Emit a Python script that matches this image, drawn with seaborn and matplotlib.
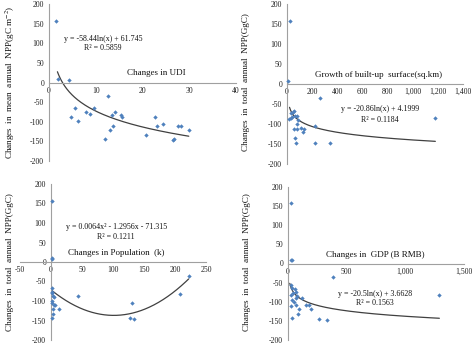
import numpy as np
import pandas as pd
import matplotlib
matplotlib.use("Agg")
import matplotlib.pyplot as plt
import seaborn as sns

sns.set_style("white")
plt.rcParams['font.family'] = ['Liberation Serif', 'DejaVu Serif']
plt.rcParams['mathtext.fontset'] = 'stix'

# ---------------- data ----------------
udi_x = [1.6, 1.9, 4.3, 4.6, 5.6, 6.2, 7.9, 8.7, 9.6, 12.0, 12.7, 13.1, 13.5,
         13.7, 14.1, 15.4, 15.6, 20.7, 22.7, 23.0, 24.3, 26.5, 26.8, 27.5, 28.3, 29.9]
udi_y = [156, 10, 6, -87, -66, -99, -76, -79, -66, -143, -35, -121, -83,
         -112, -76, -82, -87, -133, -89, -110, -105, -146, -144, -110, -111, -121]

built_x = [26, 18, 10, 33, 48, 59, 61, 77, 84, 82, 54, 79, 67, 69, 115, 138,
           128, 223, 225, 261, 345, 1180, 40, 30]
built_y = [158, -88, 8, -86, -69, -67, -80, -80, -90, -101, -112, -113, -134,
           -147, -110, -112, -121, -106, -147, -35, -148, -84, -83, -73]

pop_x = [1, 1, 1, 2, 1, 2, 3, 5, 2, 7, 5, 13, 4, 2, 44, 130, 128, 134, 208, 223, 3, 1]
pop_y = [157, 10, 7, -66, -76, -80, -88, -90, -100, -110, -110, -120, -133,
         -143, -88, -105, -144, -147, -83, -35, -120, -105]

gdp_x = [28, 25, 32, 386, 1290, 23, 35, 57, 25, 42, 37, 65, 80, 122, 150, 182,
         199, 94, 65, 23, 37, 88, 267, 335, 48, 70]
gdp_y = [158, 10, 8, -34, -83, -56, -63, -67, -82, -78, -95, -91, -84, -90,
         -108, -108, -119, -119, -108, -112, -143, -132, -145, -147, -100, -75]

# trendline coefficients shown on the chart
udi_fit = (-58.44, 61.745)
built_fit = (-20.86, 4.1999)
pop_fit = (0.0064, -1.2956, -71.315)
gdp_fit = (-20.5, 3.6628)

y_ticks = [-200, -150, -100, -50, 0, 50, 100, 150, 200]

# ---------------- figure ----------------
W, H = 474, 344
fig = plt.figure(figsize=(W / 100, H / 100), dpi=100)

def add_ax(l, t, r, b):
    return fig.add_axes([l / W, 1 - b / H, (r - l) / W, (b - t) / H])

PT = '#4f81bd'
LINE = '#404040'
SP = '#a0a0a0'

def style(ax, xlim, xticks, xlabels):
    ax.set_xlim(*xlim)
    ax.set_ylim(-200, 200)
    for s in ['top', 'right']:
        ax.spines[s].set_visible(False)
    ax.spines['left'].set_position(('data', 0))
    ax.spines['bottom'].set_position(('data', 0))
    for s in ['left', 'bottom']:
        ax.spines[s].set_color(SP)
        ax.spines[s].set_linewidth(0.8)
    ax.set_yticks(y_ticks)
    ax.set_yticklabels([str(v) for v in y_ticks])
    ax.set_xticks(xticks)
    ax.set_xticklabels(xlabels)
    ax.tick_params(axis='both', labelsize=5.6, length=2, width=0.6, color=SP,
                   pad=1.5, labelcolor='#222222')
    ax.tick_params(axis='y', direction='out')
    ax.tick_params(axis='x', direction='inout', length=3)
    ax.set_xlabel('')
    ax.set_ylabel('')
    ax.grid(False)
    ax.patch.set_alpha(0)

def scatter(ax, x, y):
    df = pd.DataFrame({'x': x, 'y': y})
    sns.scatterplot(data=df, x='x', y='y', ax=ax, color=PT, marker='D', s=5,
                    linewidth=0, legend=False, zorder=3, clip_on=False)

def line(ax, xs, ys):
    df = pd.DataFrame({'x': xs, 'y': ys})
    sns.lineplot(data=df, x='x', y='y', ax=ax, color=LINE, linewidth=0.9,
                 legend=False, zorder=2)

tfont = dict(fontsize=6.5, color='#111111')
efont = dict(fontsize=5.7, color='#111111')

# Panel 1 : UDI
ax1 = add_ax(49, 4, 236, 161)
scatter(ax1, udi_x, udi_y)
xs = np.linspace(1.8, max(udi_x), 200)
line(ax1, xs, udi_fit[0] * np.log(xs) + udi_fit[1])
style(ax1, (0, 40), [0, 10, 20, 30, 40], ['0', '10', '20', '30', '40'])
ax1.text(23, 25, 'Changes in UDI', ha='center', va='center', **tfont)
ax1.text(11.5, 110, 'y = -58.44ln(x) + 61.745', ha='center', va='center', **efont)
ax1.text(11.5, 88, 'R² = 0.5859', ha='center', va='center', **efont)
fig.text(10 / W, 1 - 82 / H, r'Changes  in  mean  annual  NPP(gC m$^{-2}$)',
         rotation=90, ha='center', va='center', fontsize=6.6, color='#111111')

# Panel 2 : built-up surface
ax2 = add_ax(287, 4, 463, 164)
scatter(ax2, built_x, built_y)
xs = np.linspace(20, max(built_x), 300)
line(ax2, xs, built_fit[0] * np.log(xs) + built_fit[1])
style(ax2, (0, 1400), [0, 200, 400, 600, 800, 1000, 1200, 1400],
      ['0', '200', '400', '600', '800', '1,000', '1,200', '1,400'])
ax2.text(730, 22, 'Growth of built-up  surface(sq.km)', ha='center', va='center', **tfont)
ax2.text(740, -62, 'y = -20.86ln(x) + 4.1999', ha='center', va='center', **efont)
ax2.text(740, -90, 'R² = 0.1184', ha='center', va='center', **efont)
fig.text(246 / W, 1 - 82 / H, 'Changes  in  total  annual  NPP(GgC)',
         rotation=90, ha='center', va='center', fontsize=6.6, color='#111111')

# Panel 3 : population
ax3 = add_ax(20, 184, 206, 340)
scatter(ax3, pop_x, pop_y)
xs = np.linspace(2, 222, 300)
line(ax3, xs, pop_fit[0] * xs ** 2 + pop_fit[1] * xs + pop_fit[2])
style(ax3, (-50, 250), [-50, 0, 50, 100, 150, 200, 250],
      ['-50', '0', '50', '100', '150', '200', '250'])
ax3.text(105, 24, 'Changes in Population  (k)', ha='center', va='center', **tfont)
ax3.text(105, 90, 'y = 0.0064x² - 1.2956x - 71.315', ha='center', va='center', **efont)
ax3.text(105, 65, 'R² = 0.1211', ha='center', va='center', **efont)
fig.text(10 / W, 1 - 262 / H, 'Changes  in  total  annual  NPP(GgC)',
         rotation=90, ha='center', va='center', fontsize=6.6, color='#111111')

# Panel 4 : GDP
ax4 = add_ax(288, 187, 464, 340)
scatter(ax4, gdp_x, gdp_y)
xs = np.linspace(15, max(gdp_x), 300)
line(ax4, xs, gdp_fit[0] * np.log(xs) + gdp_fit[1])
style(ax4, (0, 1500), [0, 500, 1000, 1500], ['0', '500', '1,000', '1,500'])
ax4.text(745, 22, 'Changes in  GDP (B RMB)', ha='center', va='center', **tfont)
ax4.text(740, -80, 'y = -20.5ln(x) + 3.6628', ha='center', va='center', **efont)
ax4.text(740, -102, 'R² = 0.1563', ha='center', va='center', **efont)
fig.text(247 / W, 1 - 262 / H, 'Changes  in  total  annual  NPP(GgC)',
         rotation=90, ha='center', va='center', fontsize=6.6, color='#111111')

fig.savefig('out.png', dpi=100, facecolor='white')
